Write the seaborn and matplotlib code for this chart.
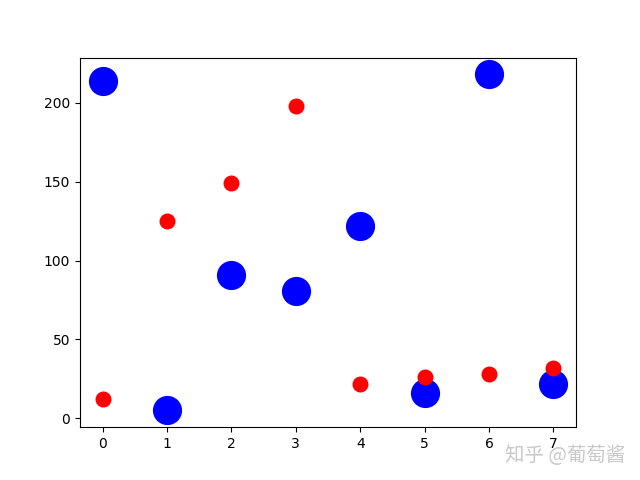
import numpy as np
import pandas as pd
import seaborn as sns
import matplotlib
matplotlib.use("Agg")
import matplotlib.pyplot as plt

# values
x = [0, 1, 2, 3, 4, 5, 6, 7]
blue_y = [214, 5, 91, 81, 122, 16, 218, 22]
red_y = [12, 125, 149, 198, 22, 26, 28, 32]

df = pd.DataFrame({'x': x, 'blue': blue_y, 'red': red_y})

fig, ax = plt.subplots(figsize=(6.4, 4.8), dpi=100)

# big blue dots first, small red ones on top
sns.scatterplot(data=df, x='x', y='blue', color='blue', s=400,
                edgecolor='blue', linewidth=1, ax=ax)
sns.scatterplot(data=df, x='x', y='red', color='red', s=110,
                edgecolor='red', linewidth=1, ax=ax)

ax.set_xlabel('')
ax.set_ylabel('')
ax.set_yticks([0, 50, 100, 150, 200])

# watermark (sits over the "7" tick label in the original too)
fig.text(0.789, 0.04, '知乎 @葡萄酱', fontsize=14, color='#c8c8c8',
         family=['Noto Sans CJK SC', 'DejaVu Sans'])

fig.savefig('out.png', dpi=100)
